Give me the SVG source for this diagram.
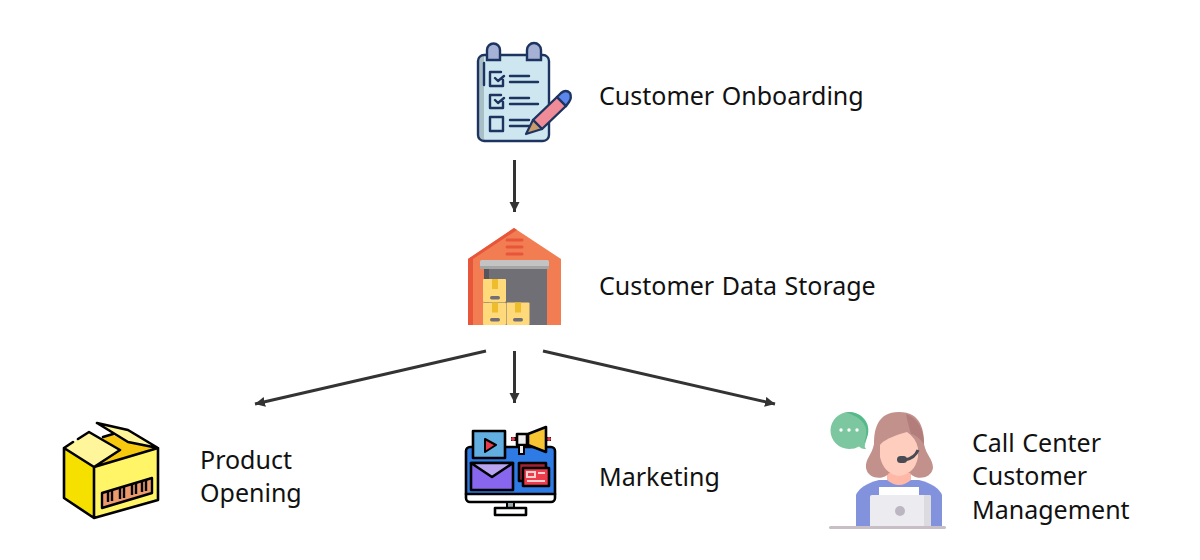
<svg xmlns="http://www.w3.org/2000/svg" width="1200" height="560" viewBox="0 0 1200 560">
<style>
text{font-family:"Noto Sans","Open Sans",sans-serif;font-size:25px;fill:#111;word-spacing:1px}
.c{stroke:#333;stroke-width:3;fill:none;marker-end:url(#a)}
.n{stroke:#1d3461;stroke-width:2.400;stroke-linejoin:round;stroke-linecap:round;fill:none}
.k{stroke:#000;stroke-width:2.600;stroke-linejoin:round;stroke-linecap:round}
</style>
<defs><marker id="a" markerUnits="userSpaceOnUse" markerWidth="12" markerHeight="12" refX="10" refY="5" orient="auto"><path d="M0 0L10 5L0 10z" fill="#333"/></marker></defs>
<rect width="1200" height="560" fill="#fff"/>
<g id="connectors">
<path class="c" d="M514.500 160V212"/>
<path class="c" d="M486 351L255 404"/>
<path class="c" d="M514.500 351V403"/>
<path class="c" d="M543 351L775 404"/>
</g>
<g id="customer-onboarding">
<rect x="478" y="55" width="71" height="86" rx="6" fill="#cde6ef"/>
<path d="M484 55h-1a5 5 0 0 0-5 5v76a5 5 0 0 0 5 5h3a5 5 0 0 1-2-5z" fill="#a9bfc6"/>
<rect x="478" y="55" width="71" height="86" rx="6" class="n"/>
<path class="n" d="M484 63V85"/>
<path d="M487 60V50a6.500 6.500 0 0 1 13 0v10z" fill="#a5b2d6" stroke="#1d3461" stroke-width="2.400"/>
<path d="M527 60V50a7 7 0 0 1 14 0v10z" fill="#a5b2d6" stroke="#1d3461" stroke-width="2.400"/>
<path class="n" d="M501 72H490V86H503V80M495 78l3 3 6-5M510 76h19M510 82h28"/>
<path class="n" d="M501 95H490V108H503V102M495 100l3 3 6-5M510 98h19M510 104h28"/>
<rect x="490" y="117" width="13" height="14" fill="#b8c9cf" class="n"/>
<path class="n" d="M510 120h19M510 126h19"/>
<path d="M533 120L557 97L566 106L542 129z" fill="#f08b98" stroke="#1d3461" stroke-width="2.400" stroke-linejoin="round"/>
<path d="M557 97L561 93Q566 89 570 93Q572 98 569 102L566 106z" fill="#5b86ec" stroke="#1d3461" stroke-width="2.400" stroke-linejoin="round"/>
<path d="M533 120L542 129L526 134z" fill="#c99a6b" stroke="#1d3461" stroke-width="2.200" stroke-linejoin="round"/>
</g>
<g id="customer-data-storage">
<path d="M514 228L561 259V325H468V259z" fill="#f37d53"/>
<path d="M514 228L517 230L473 259V325H468V259z" fill="#e7553a"/>
<path d="M507 240h15M507 247h15M507 254h15" stroke="#e7553a" stroke-width="3" stroke-linecap="round"/>
<rect x="484" y="266" width="63" height="59" fill="#6f6f75"/>
<rect x="484" y="266" width="5" height="59" fill="#55555b"/>
<rect x="480" y="260" width="69" height="9" rx="1.500" fill="#c3c3c3"/>
<rect x="480" y="266" width="69" height="3" fill="#a5a5a5"/>
<g fill="#ffd97a"><rect x="483" y="279" width="23" height="23" rx="1"/><rect x="483" y="302.500" width="23" height="22.500" rx="1"/><rect x="506.500" y="302.500" width="23" height="22.500" rx="1"/></g>
<g fill="#eebd2c"><rect x="492" y="279" width="6" height="10"/><rect x="492" y="302.500" width="6" height="10"/><rect x="515" y="302.500" width="6" height="10"/></g>
<g fill="#6f6f75"><rect x="490" y="296" width="10" height="3.500" rx="1.700"/><rect x="490" y="318" width="10" height="3.500" rx="1.700"/><rect x="513" y="318" width="10" height="3.500" rx="1.700"/></g>
</g>
<g id="product-opening">
<path d="M64 448L94 467V518L64 498z" fill="#f5e000"/>
<path d="M94 467L158 448V500L94 518z" fill="#fff566"/>
<path d="M102 438L113 435L128 442L158 448L95 468L120 450z" fill="#f6c90e"/>
<path d="M64 448L89 432L120 450L94 467z" fill="#fff59a"/>
<path d="M97 423L128 430L158 448L128 442z" fill="#fff59a"/>
<path class="k" fill="none" d="M73 442L64 448L94 467L120 450L89 432L78 439M94 467V518L64 498V448M103 437L113 434M97 423L128 430L158 448L128 442L97 423M158 448L94 467M158 448V500L94 518"/>
<path d="M102 493L152 478V493L102 508z" fill="#ed9a6d" stroke="#000" stroke-width="2.400" stroke-linejoin="round"/>
<path d="M108 491v11M112 490v11M120 488v11M124 487v11M132 484v11M136 483v11M142 481v11M146 480v11" stroke="#000" stroke-width="2.400"/>
</g>
<g id="marketing">
<rect x="466" y="447" width="89" height="54" rx="4" fill="#2f7be6"/>
<rect x="466" y="494" width="89" height="8" fill="#fff"/>
<rect x="466" y="447" width="89" height="55" rx="4" fill="none" class="k"/>
<path class="k" d="M466 494H555" fill="none"/>
<rect x="507" y="502" width="7" height="6" fill="#9aa" stroke="#000" stroke-width="2"/>
<rect x="495" y="508" width="31" height="7" fill="#fff" class="k"/>
<rect x="473" y="431" width="32" height="27" fill="#62aee0" class="k"/>
<path d="M485 439L496 445L485 452z" fill="#e63b4d" stroke="#000" stroke-width="2" stroke-linejoin="round"/>
<rect x="471" y="463" width="42" height="27" fill="#8867ee" class="k"/>
<path d="M471 463H513L492 477z" fill="#b9a4f2" class="k"/>
<rect x="519" y="463" width="27" height="18" fill="#a82236" class="k"/>
<rect x="523" y="468" width="26" height="18" fill="#ef3c4c" class="k"/>
<path d="M527 472h8v5h-8zM538 473h7M527 481h18" stroke="#ffd0d0" stroke-width="2" fill="none"/>
<path d="M511 439H516M546 439H551" stroke="#000" stroke-width="4"/>
<circle cx="513" cy="439" r="2" fill="#e63b4d"/><circle cx="549" cy="439" r="2" fill="#e63b4d"/>
<path d="M528 434L546 427V452L528 445z" fill="#f7c534" class="k"/>
<rect x="517" y="434" width="10" height="11" fill="#eee" class="k"/>
<path d="M519 445h5v9h-5z" fill="#eee" stroke="#000" stroke-width="2"/>
</g>
<g id="call-center-customer-management">
<path d="M849 412a18.500 18.500 0 1 0 0 37q6 0 10-2.500q3 3 7 2.500q-2-2-1-5q2-3.500 2-13.500a18.500 18.500 0 0 0-18-18.500z" fill="#7cc6a0"/>
<path d="M846 412.500a18.500 18.500 0 0 1 18 30q3-6 2-14q-3-11-20-16z" fill="#55b98a"/>
<g fill="#fff"><circle cx="841" cy="430" r="1.700"/><circle cx="849" cy="430" r="1.700"/><circle cx="857" cy="430" r="1.700"/></g>
<path d="M856 495Q860 485 879 480H919Q938 485 942 495V526H856z" fill="#8392dc"/>
<path d="M879 487H919V500H879z" fill="#fff"/>
<path d="M887 470H911V480Q899 490 887 480z" fill="#ffb8a6"/>
<path d="M899 412C877 412 874 430 874 444C872 455 865 459 866 468C868 480 885 480 889 473H910C914 480 931 480 933 468C933 459 926 455 924 444C924 430 921 412 899 412z" fill="#c2918c"/>
<path d="M880 445Q885 438 907 432Q916 438 918 448V457Q915 474 899 476Q884 474 880 457z" fill="#ffcdbd"/>
<path d="M906 414C918 418 924 430 924 444Q916 434 911 434Q907 420 906 414z" fill="#b27d7a"/>
<path d="M918 450Q915 458 905 460" stroke="#4a4a55" stroke-width="3" fill="none"/>
<rect x="897" y="456" width="10" height="7" rx="3.500" fill="#4a4a55"/>
<path d="M872 495H929Q931 495 931 497V526H870V497Q870 495 872 495z" fill="#ececf0"/>
<path d="M924 495H929Q931 495 931 497V526H924z" fill="#dcdce0"/>
<circle cx="900" cy="511" r="5" fill="#bcb6c2"/>
<rect x="829" y="526" width="117" height="3" rx="1.500" fill="#c8bfc6"/>
</g>
<g id="labels">
<text x="599" y="105">Customer Onboarding</text>
<text x="599" y="295">Customer Data Storage</text>
<text x="200" y="469">Product</text>
<text x="200" y="502">Opening</text>
<text x="599" y="486">Marketing</text>
<text x="972" y="452">Call Center</text>
<text x="972" y="485">Customer</text>
<text x="972" y="519">Management</text>
</g>
</svg>
